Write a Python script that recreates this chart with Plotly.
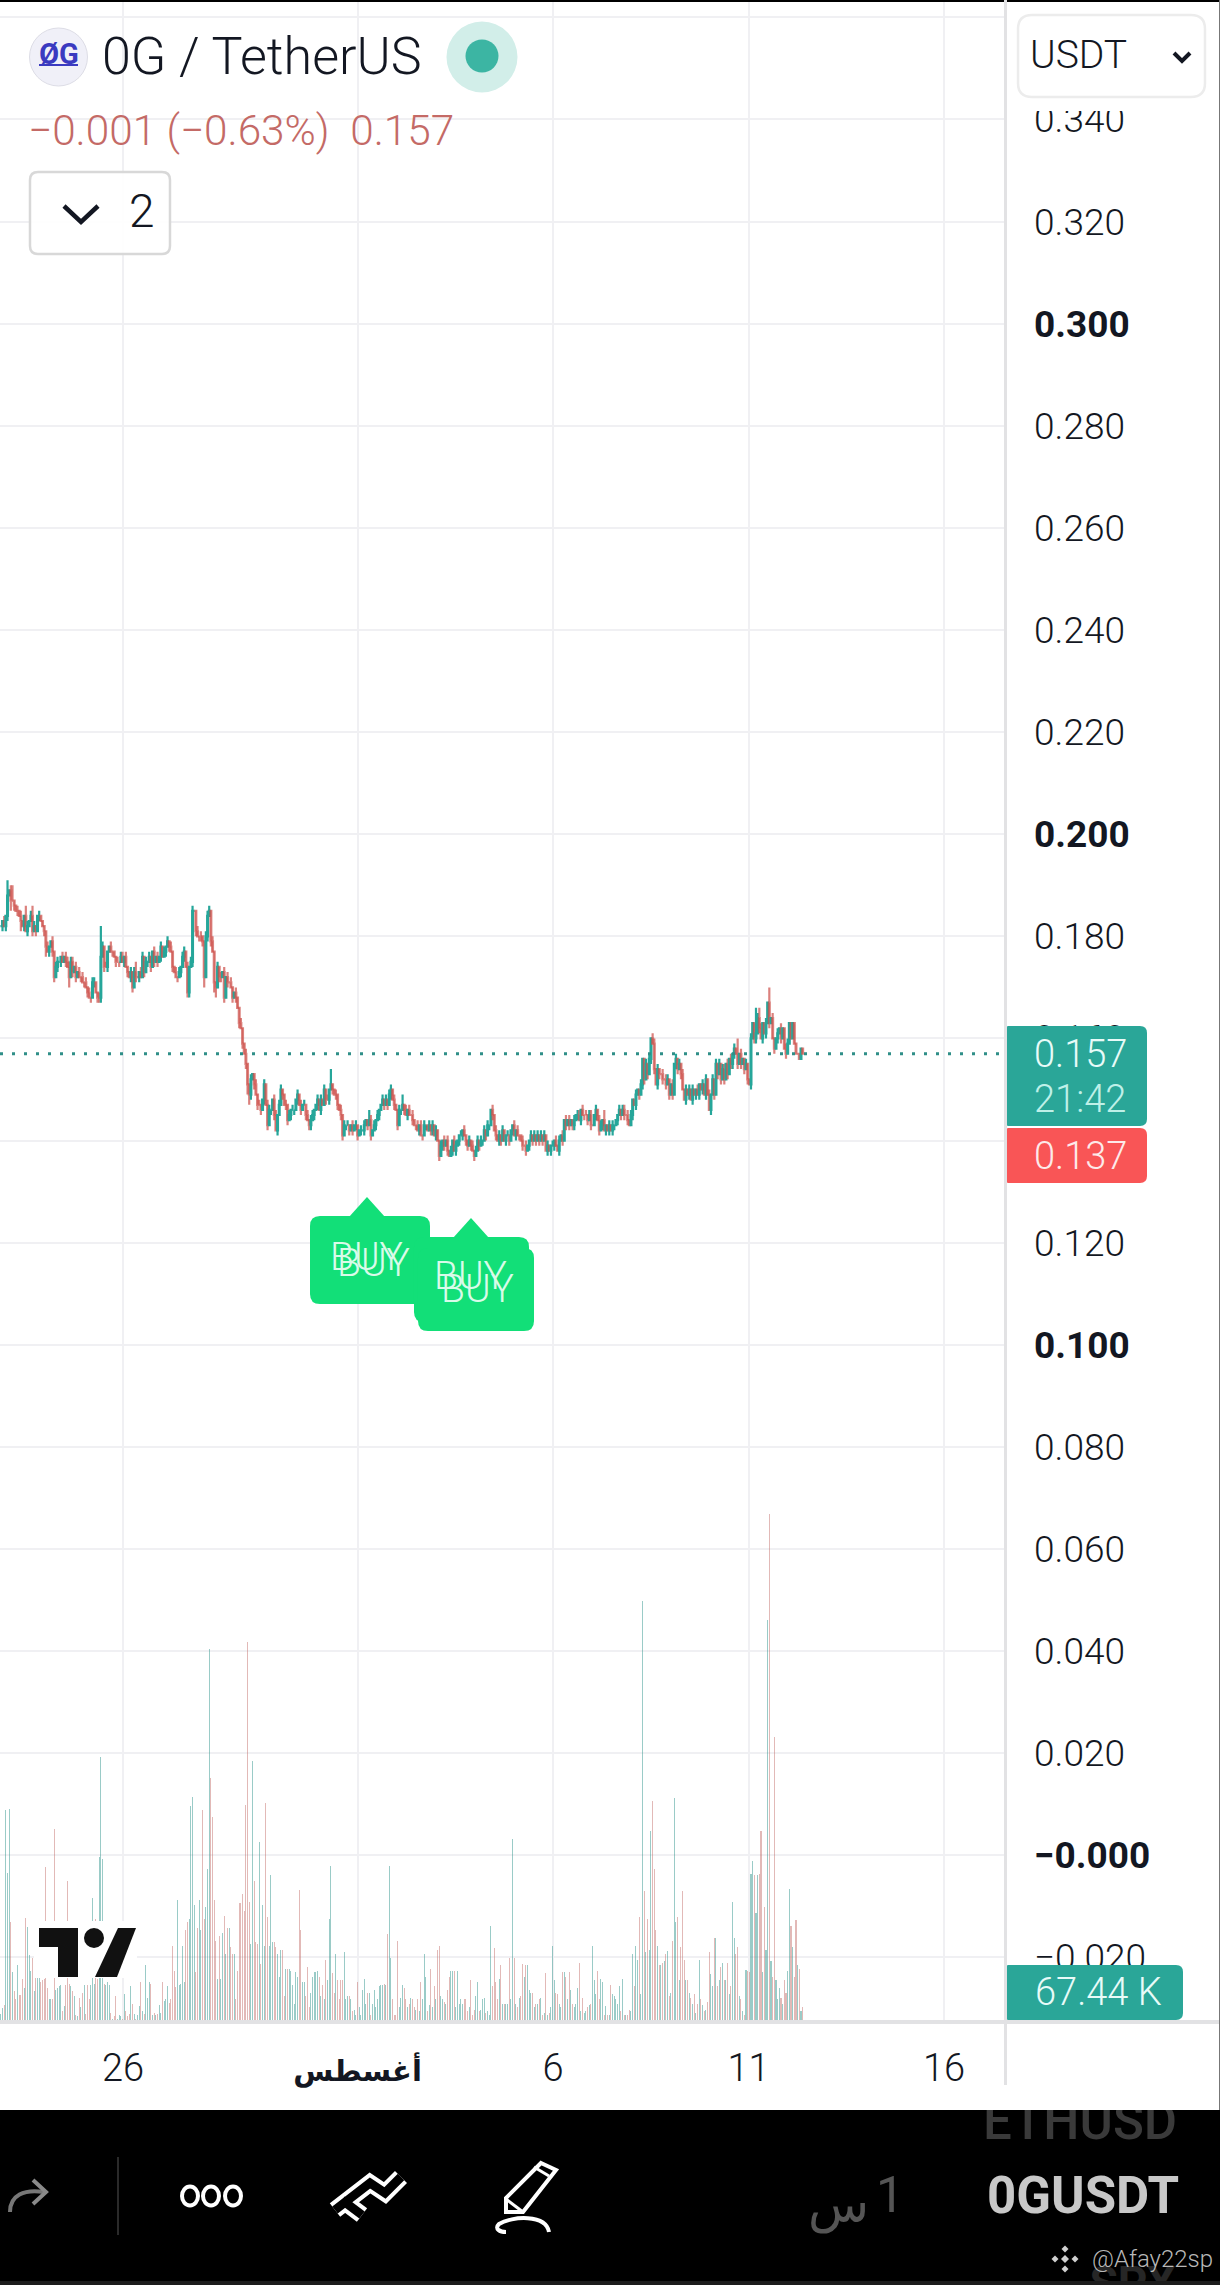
import pandas as pd
import plotly.graph_objects as go

# ---------- data (prices in thousandths of a USDT, volume in thousands) ----------
start_time = "2025-07-22 21:00"
step_seconds = 3684
first_open = 182
closes = [
182,183,182,184,188,189,187,187,186,185,
185,184,183,182,184,181,182,183,184,181,
182,181,184,184,183,182,181,178,177,178,
179,177,172,174,175,175,176,175,176,175,
174,172,175,173,174,172,173,172,172,171,
171,170,169,168,168,171,171,169,168,168,
176,178,174,174,177,178,177,177,176,175,
175,175,176,175,176,174,173,172,173,170,
173,172,172,173,172,176,173,175,175,176,
174,177,175,176,175,176,178,176,177,178,
179,178,177,174,173,172,172,173,174,176,
177,174,169,174,175,185,185,181,180,180,
180,179,172,180,184,185,179,177,171,170,
174,172,172,173,168,172,171,171,170,168,
169,168,166,163,162,159,157,155,151,149,
152,153,151,149,147,147,146,148,151,147,
143,146,146,148,145,142,145,147,150,149,
147,147,144,145,146,146,146,148,149,147,
146,147,147,145,144,143,144,145,146,147,
148,146,148,147,150,148,148,150,151,150,
149,149,147,146,145,141,143,143,143,142,
143,142,143,143,141,142,142,142,143,144,
143,144,141,142,143,144,145,146,147,148,
147,148,147,149,150,148,147,146,143,146,
146,147,146,145,146,145,145,144,143,143,
142,143,141,141,143,143,142,143,142,143,
141,142,140,137,139,140,139,140,138,137,
138,140,138,139,140,141,141,142,141,140,
139,140,139,138,137,138,140,139,140,140,
142,141,143,143,146,145,142,141,140,141,
140,142,140,141,141,140,142,143,141,142,
141,141,140,139,139,138,139,140,141,140,
141,140,141,140,141,140,141,138,139,138,
139,139,140,139,138,140,141,140,144,143,
144,143,144,143,144,145,145,144,146,145,
145,145,144,145,143,143,145,146,144,142,
143,144,142,143,142,143,142,143,143,144,
145,146,145,146,145,145,144,143,145,148,
147,149,150,149,151,156,152,155,153,156,
160,159,154,151,154,153,153,152,152,151,
152,149,151,149,155,156,154,155,153,150,
148,150,149,150,148,150,149,150,149,151,
150,151,149,152,149,146,149,152,149,155,
153,155,152,154,152,155,153,156,155,157,
158,157,155,157,155,156,154,155,152,151,
160,163,160,161,164,162,160,163,161,163,
167,163,164,160,158,160,161,162,160,162,
158,157,159,163,160,163,159,157,157,156,
158,157]
wick_up = [
0,0,1,0,3,0,1,3,0,0, 1,0,1,0,0,2,1,0,1,2, 1,0,0,1,0,0,0,0,1,0, 0,1,0,1,1,0,0,1,0,1,
1,1,1,1,0,1,0,1,0,1, 0,1,0,1,0,1,1,0,0,1, 6,1,0,1,0,0,1,0,0,0, 1,0,1,1,0,1,0,0,1,0,
1,2,0,0,1,1,0,1,0,1, 0,0,1,0,1,0,1,0,1,0, 1,0,1,0,0,1,0,1,0,1, 1,0,1,0,1,1,0,0,1,0,
1,0,0,1,1,1,0,1,0,0, 1,0,1,0,1,0,1,0,1,0, 0,1,0,0,1,0,0,1,0,0, 1,0,0,1,0,1,0,0,1,0,
1,1,0,0,1,1,0,1,1,0, 0,1,0,1,0,1,0,0,1,0, 1,0,1,0,1,0,1,1,0,0, 1,0,1,0,1,0,1,0,3,0,
0,1,0,0,1,0,1,0,1,0, 0,1,0,1,0,0,1,0,1,0, 0,2,1,0,1,0,1,0,0,1, 0,1,0,1,1,0,1,0,0,1,
0,2,0,1,0,1,0,1,0,0, 1,0,1,0,1,0,0,1,0,1, 0,1,0,0,1,0,1,0,1,0, 1,0,1,1,0,0,1,0,1,0,
0,1,0,1,0,1,1,0,1,0, 1,0,1,0,0,1,0,1,0,1, 0,1,0,0,1,0,0,0,1,0, 1,0,0,1,0,1,0,0,1,0,
1,0,1,0,1,0,1,0,1,0, 0,1,0,1,0,1,0,1,0,1, 0,1,0,0,1,0,1,1,0,1, 0,1,0,1,1,0,0,1,0,1,
1,0,2,0,0,1,0,1,0,0, 0,1,0,1,1,0,1,0,1,0, 0,1,0,0,1,0,0,1,0,1, 0,1,1,0,1,0,0,1,0,1,
1,0,0,1,0,1,0,1,0,1, 0,1,0,1,0,1,0,0,1,0, 0,1,0,1,0,1,0,1,0,0, 0,1,0,1,1,0,1,0,1,0,
1,0,3,0,1,0,0,1,0,0, 1,0,0,0,1,0,1,0,0,1, 0,1,0,1,0,0,1,0,1,0,
0,1,1]
wick_up = (wick_up + [0] * len(closes))[:len(closes)]
wick_up[453] = 5
wick_up[455] = 2
wick_up[461] = 3
wick_up[440] = 1
wick_up[429] = 1
wick_dn = [
0,1,0,1,1,0,2,0,1,0, 1,0,2,0,1,0,1,0,0,1, 0,1,0,1,0,0,1,2,0,1, 0,1,1,0,1,0,1,0,0,1,
0,2,0,1,0,1,0,0,1,0, 1,0,1,0,1,0,1,0,1,1, 1,0,1,0,1,0,0,1,0,1, 0,1,0,0,1,0,1,0,1,1,
0,1,0,1,0,0,1,0,1,0, 1,0,1,0,1,0,1,0,0,1, 0,1,0,1,0,0,1,0,1,0, 1,0,1,1,0,1,0,1,0,1,
1,1,2,0,1,0,1,0,2,2, 0,1,1,0,1,0,1,0,0,1, 0,1,0,1,0,1,0,1,2,2, 1,0,1,0,1,0,1,0,1,0,
1,0,1,0,1,0,1,0,0,1, 0,1,1,0,1,0,1,0,1,0, 1,0,0,1,0,1,1,0,1,0, 1,0,1,0,0,1,0,1,0,1,
0,1,1,0,1,1,0,1,0,1, 0,1,0,1,1,0,1,0,1,0, 1,0,1,0,0,1,0,1,0,0, 1,0,1,0,1,0,1,0,1,0,
1,0,1,0,1,0,0,1,0,1, 0,1,0,1,0,1,0,0,1,1, 0,1,0,1,0,1,1,0,1,0, 0,1,0,1,0,1,0,1,0,1,
1,0,1,0,1,0,0,1,0,1, 0,1,0,1,0,1,0,1,0,1, 1,0,0,1,0,1,0,1,0,1, 0,1,0,1,0,1,0,1,0,1,
0,1,0,1,0,1,0,0,1,0, 1,0,1,0,0,1,0,1,0,1, 0,1,0,1,1,0,1,0,1,0, 1,0,1,0,1,0,0,1,0,1,
0,1,0,1,0,1,0,1,1,0, 1,0,1,0,1,0,1,0,0,1, 0,1,0,1,0,1,1,0,1,0, 1,0,1,0,1,1,0,1,0,1,
0,1,0,1,0,1,1,0,1,0, 0,1,0,1,0,1,0,1,0,1, 0,1,0,1,0,0,1,0,1,0, 1,0,1,0,1,0,1,0,1,1,
1,0,1,0,1,0,1,0,1,0, 1,0,1,1,0,1,0,1,0,1, 0,1,0,0,1,0,1,0,1,0,
0,1,0]
wick_dn = (wick_dn + [0] * len(closes))[:len(closes)]
volumes_k = [
35,60,75,935,660,940,440,220,135,100,
250,120,120,190,150,460,420,295,225,285,
135,225,240,275,175,185,190,685,150,100,
100,100,855,140,150,160,165,50,70,165,
625,170,160,135,115,30,25,105,65,130,
165,35,165,100,165,550,170,455,190,730,
1170,720,170,165,175,165,40,15,25,115,
15,30,25,15,125,50,25,35,160,80,
35,15,30,70,175,50,35,250,105,175,
170,30,40,30,35,75,40,175,95,100,
160,85,100,335,225,155,540,165,170,335,
175,405,440,455,955,995,515,220,415,540,
405,935,455,510,675,1650,1080,905,540,360,
190,380,190,395,470,300,415,415,330,300,
300,100,225,525,525,565,490,960,1680,530,
345,1155,625,355,345,795,255,515,335,970,
465,335,650,355,355,330,300,200,320,320,
115,235,235,235,225,165,80,220,200,585,
405,175,175,115,245,65,130,200,220,220,
225,200,115,165,100,275,185,455,690,215,
130,300,185,100,185,185,310,100,115,115,
100,50,55,30,175,65,30,140,190,80,
130,130,30,80,140,65,100,160,165,165,
170,165,390,690,285,100,30,30,360,65,
105,165,150,100,65,80,105,100,65,55,
100,50,175,100,300,200,50,75,235,65,
160,100,320,335,115,100,90,80,140,200,
225,225,225,65,225,80,100,80,100,100,
50,65,185,30,55,115,175,50,55,100,
105,40,50,30,425,160,325,175,100,190,
250,80,80,80,80,285,100,810,285,80,
65,105,115,255,200,250,250,140,130,130,
65,80,80,100,105,30,40,215,30,40,
65,335,185,130,125,80,65,220,220,200,
100,220,140,80,65,80,150,260,50,105,
40,50,65,75,80,335,185,125,225,100,
190,175,30,70,30,30,165,125,115,100,
80,160,50,190,30,30,30,55,50,300,
160,335,275,465,125,1860,580,310,455,320,
845,975,675,405,335,250,250,260,270,300,
315,115,130,360,990,440,465,185,330,580,
275,185,185,130,105,80,125,40,80,275,
100,75,50,55,90,310,210,160,370,370,
160,185,245,260,185,185,260,125,160,530,
370,300,330,115,100,50,30,230,225,220,
655,710,650,480,650,655,845,220,510,320,
1775,2245,270,200,1260,185,100,150,105,80,
185,130,225,590,425,330,200,450,250,235,
50,67.44]
price_ticks = [0.36,0.34,0.32,0.30,0.28,0.26,0.24,0.22,0.20,0.18,0.16,0.14,0.12,0.10,0.08,0.06,0.04,0.02,0.0,-0.02]
price_tick_text = ["0.360","0.340","0.320","<b>0.300</b>","0.280","0.260","0.240","0.220","<b>0.200</b>","0.180","0.160","0.140","0.120","<b>0.100</b>","0.080","0.060","0.040","0.020","<b>−0.000</b>","−0.020"]
date_ticks = ["2025-07-26","2025-08-01","2025-08-06","2025-08-11","2025-08-16"]
date_tick_text = ["26","<span style=\"font-size:29px\"><b>أغسطس</b></span>","6","11","16"]
last_price = 0.157

# ---------- derived series ----------
n = len(closes)
times = pd.date_range(start_time, periods=n, freq=f"{step_seconds}s")
opens = [first_open] + closes[:-1]
highs = [max(o, c) + w for o, c, w in zip(opens, closes, wick_up)]
lows = [min(o, c) - w for o, c, w in zip(opens, closes, wick_dn)]
TEAL, RED = "#26a69a", "rgba(205,80,75,0.72)"
vol_colors = ["rgba(30,140,130,0.45)" if c >= o else "rgba(190,100,95,0.45)" for o, c in zip(opens, closes)]

# ---------- frame ----------
W, H, PW, PH = 1220, 2285, 1005, 2022
INK = "#131722"
FONT = "Roboto, 'DejaVu Sans', sans-serif"

def X(x): return x / PW
def Y(y): return (PH - y) / PH

def poly(points, close=True):
    d = "M " + " L ".join(f"{X(x):.5f} {Y(y):.5f}" for x, y in points)
    return d + (" Z" if close else "")

def rrect(x0, y0, x1, y1, rl=8, rr=8):
    return (f"M {X(x0+rl):.5f} {Y(y0):.5f} L {X(x1-rr):.5f} {Y(y0):.5f} "
            f"Q {X(x1):.5f} {Y(y0):.5f} {X(x1):.5f} {Y(y0+rr):.5f} L {X(x1):.5f} {Y(y1-rr):.5f} "
            f"Q {X(x1):.5f} {Y(y1):.5f} {X(x1-rr):.5f} {Y(y1):.5f} L {X(x0+rl):.5f} {Y(y1):.5f} "
            f"Q {X(x0):.5f} {Y(y1):.5f} {X(x0):.5f} {Y(y1-rl):.5f} L {X(x0):.5f} {Y(y0+rl):.5f} "
            f"Q {X(x0):.5f} {Y(y0):.5f} {X(x0+rl):.5f} {Y(y0):.5f} Z")

def path(d, fill="rgba(0,0,0,0)", line="rgba(0,0,0,0)", width=0, **kw):
    return dict(type="path", xref="paper", yref="paper", path=d, fillcolor=fill,
                line=dict(color=line, width=width), **kw)

def rect(x0, y0, x1, y1, fill, **kw):
    return dict(type="rect", xref="paper", yref="paper", x0=X(x0), x1=X(x1), y0=Y(y1), y1=Y(y0),
                fillcolor=fill, line=dict(width=0), **kw)

def circle(cx, cy, rx, ry, fill="rgba(0,0,0,0)", line="rgba(0,0,0,0)", width=0):
    return dict(type="circle", xref="paper", yref="paper", x0=X(cx-rx), x1=X(cx+rx), y0=Y(cy+ry), y1=Y(cy-ry),
                fillcolor=fill, line=dict(color=line, width=width))

def text(t, x, y, size, color=INK, anchor="left", weight=300):
    return dict(text=t, x=X(x), y=Y(y), xref="paper", yref="paper", showarrow=False, xanchor=anchor, yanchor="middle",
                borderpad=0, font=dict(family=FONT, size=size, color=color, weight=weight))

fig = go.Figure()
fig.add_trace(go.Bar(x=times, y=volumes_k, yaxis="y2", width=2250000, marker=dict(color=vol_colors, line=dict(width=0)),
                     showlegend=False, hoverinfo="skip"))
fig.add_trace(go.Candlestick(x=times, open=[v/1000 for v in opens], high=[v/1000 for v in highs],
                             low=[v/1000 for v in lows], close=[v/1000 for v in closes],
                             increasing=dict(line=dict(color=TEAL, width=2.2), fillcolor=TEAL),
                             decreasing=dict(line=dict(color=RED, width=2.2), fillcolor=RED),
                             whiskerwidth=0, showlegend=False, hoverinfo="skip"))

shapes = []
# latest price dotted line
shapes.append(dict(type="line", xref="paper", yref="y", x0=0, x1=1, y0=last_price, y1=last_price,
                   line=dict(color="#2f8f88", width=3, dash="3px,9px")))
# TradingView mark
shapes.append(rect(34, 1921, 137, 1978, "#ffffff"))
shapes.append(path(poly([(39,1928),(78,1928),(78,1977),(58,1977),(58,1947),(39,1947)]), fill="#111111"))
shapes.append(circle(94, 1938, 10, 10, fill="#111111"))
shapes.append(path(poly([(118,1928),(136,1928),(117,1977),(95,1977)]), fill="#111111"))
# BUY flags
GREEN = "#12df78"
shapes.append(path(poly([(349,1217),(367,1197),(385,1217)]), fill=GREEN))
shapes.append(path(rrect(310,1216,430,1304,10,10), fill=GREEN))
shapes.append(path(poly([(453,1238),(471,1218),(489,1238)]), fill=GREEN))
shapes.append(path(rrect(414,1237,529,1322,10,10), fill=GREEN))
shapes.append(path(rrect(418,1248,534,1331,10,10), fill=GREEN))
# axis frame
shapes.append(rect(0, 0, W, 2, "#000000"))
shapes.append(rect(1004, 0, 1007, 2110, "#e2e2e4"))
shapes.append(rect(0, 2020, W, 2024, "#e2e2e4"))
shapes.append(rect(1219, 0, W, 2110, "#777777"))
# mask above the first visible price label
shapes.append(rect(1008, 2, 1218, 111, "#ffffff"))
shapes.append(path(rrect(1018,15,1205,97,14,14), fill="#ffffff", line="#ececec", width=2.5))
shapes.append(path(poly([(1174,53),(1182,61),(1190,53)], close=False), line="#131722", width=4))
# price tags
shapes.append(path(rrect(1007,1026,1147,1126,1,7), fill="#2aa698"))
shapes.append(path(rrect(1007,1128,1147,1183,1,7), fill="#f95556"))
shapes.append(path(rrect(1007,1965,1183,2020,1,7), fill="#2aa698"))
# header
shapes.append(circle(58.5, 57, 29, 29, fill="#f0f0f8", line="#dddde6", width=1))
shapes.append(rect(39, 64, 78, 66, "#3a3ac0"))
shapes.append(circle(482, 57, 35.5, 35.5, fill="#d2eee9"))
shapes.append(circle(482, 56, 16.5, 16.5, fill="#3cb5a3"))
shapes.append(path(rrect(30,172,170,254,8,8), fill="rgba(255,255,255,0.9)", line="#d8d8d8", width=2.5))
shapes.append(path(poly([(64,206),(81,222),(98,206)], close=False), line="#131722", width=4.5))
# bottom toolbar
shapes.append(rect(0, 2110, W, H, "#000000"))
shapes.append(dict(type="rect", xref="paper", yref="paper", x0=X(960), x1=X(1200), y0=Y(2142), y1=Y(2092),
                   fillcolor="rgba(0,0,0,0)", line=dict(width=0),
                   label=dict(text="ETHUSD", font=dict(family=FONT, size=51, color="#3a3a3a", weight=500), textposition="middle center")))
shapes.append(rect(960, 2085, 1200, 2110, "#ffffff"))
shapes.append(dict(type="rect", xref="paper", yref="paper", x0=X(1060), x1=X(1205), y0=Y(2295), y1=Y(2265),
                   fillcolor="rgba(0,0,0,0)", line=dict(width=0),
                   label=dict(text="<b>SPX</b>", font=dict(family=FONT, size=46, color="#262626"), textposition="middle center")))
shapes.append(rect(0, 2281, W, H + 20, "#1c1c1c"))
shapes.append(rect(117, 2157, 119, 2235, "#2a2a2a"))
shapes.append(path(f"M {X(10):.5f} {Y(2212):.5f} C {X(10):.5f} {Y(2195):.5f} {X(24):.5f} {Y(2189):.5f} {X(44):.5f} {Y(2192):.5f}", line="#777777", width=4))
shapes.append(path(poly([(33,2180),(46,2192),(33,2204)], close=False), line="#8a8a8a", width=4))
for cx in (190, 211, 233):
    shapes.append(circle(cx, 2196, 8, 9.5, line="#ffffff", width=4))
for pts in ([(335,2210),(370,2183),(385,2193),(401,2177)], [(342,2200),(362,2215)]):
    shapes.append(path(poly(pts, close=False), line="#ffffff", width=17))
for pts in ([(335,2210),(370,2183),(385,2193),(401,2177)], [(342,2200),(362,2215)]):
    shapes.append(path(poly(pts, close=False), line="#000000", width=9))
shapes.append(path(poly([(541,2163),(556,2170),(523,2212),(506,2212),(506,2198)]), line="#ffffff", width=4))
shapes.append(path(poly([(534,2167),(549,2176)], close=False), line="#ffffff", width=3))
shapes.append(path(poly([(506,2199),(523,2212)], close=False), line="#ffffff", width=3))
shapes.append(path(f"M {X(549):.5f} {Y(2232):.5f} C {X(546):.5f} {Y(2214):.5f} {X(512):.5f} {Y(2216):.5f} {X(499):.5f} {Y(2224):.5f} C {X(494):.5f} {Y(2229):.5f} {X(500):.5f} {Y(2232):.5f} {X(506):.5f} {Y(2232):.5f}", line="#ffffff", width=4))
# watermark diamond
for cx, cy, r in ((1065,2259,4),(1065,2249,3.5),(1065,2269,3.5),(1055,2259,3.5),(1075,2259,3.5)):
    shapes.append(path(poly([(cx,cy-r),(cx+r,cy),(cx,cy+r),(cx-r,cy)]), fill="#d0d0d0"))

annotations = [
    text("<b>ØG</b>", 58.5, 54, 29, "#3a3ac0", "center"),
    text("0G / TetherUS", 101, 56, 52),
    text("−0.001 (−0.63%)  0.157", 27, 130, 42.3, "#c46a66"),
    text("2", 142, 211, 46, anchor="center"),
    text("USDT", 1029, 55, 39),
    text("0.157", 1033, 1054, 38, "#e8fbf8"),
    text("21:42", 1033, 1099, 38, "#bff0e8"),
    text("0.137", 1033, 1156, 38, "#fdeaea"),
    text("67.44 K", 1034, 1992, 38, "#e8fbf8"),
    text("BUY", 366, 1257, 39, "#d9fbe9", "center"),
    text("BUY", 373.5, 1263, 39, "#d9fbe9", "center"),
    text("BUY", 470.5, 1276, 39, "#d9fbe9", "center"),
    text("BUY", 477.5, 1289, 39, "#d9fbe9", "center"),
    text("1", 890, 2195, 50, "#555555", "center", 400),
    text("س", 838, 2205, 50, "#555555", "center", 400),
    text("<b>0GUSDT</b>", 1083, 2195, 51, "#c8c8c8", "center", 700),
    text("@Afay22sp", 1091, 2259, 24, "#b8b8b8"),
]

fig.update_layout(
    width=W, height=H, margin=dict(l=0, r=W-PW, t=0, b=H-PH), autosize=False,
    paper_bgcolor="#ffffff", plot_bgcolor="#ffffff", showlegend=False, bargap=0,
    font=dict(family=FONT, color=INK),
    xaxis=dict(type="date", range=["2025-07-22 20:29", "2025-08-17 13:26"], rangeslider=dict(visible=False),
               tickmode="array", tickvals=date_ticks, ticktext=date_tick_text, showgrid=True, gridcolor="#f0f0f3", gridwidth=2,
               zeroline=False, showline=False, ticks="", ticklabelstandoff=20, automargin=False,
               tickfont=dict(family=FONT, size=38, color=INK, weight=300)),
    yaxis=dict(range=[-0.03265, 0.3634], side="right", tickmode="array", tickvals=price_ticks, ticktext=price_tick_text,
               showgrid=True, gridcolor="#f0f0f3", gridwidth=2, zeroline=False, showline=False, ticks="", ticklabelstandoff=28,
               automargin=False, tickfont=dict(family=FONT, size=37, color=INK, weight=300)),
    yaxis2=dict(range=[0, 8937], overlaying="y", side="right", visible=False, showgrid=False, zeroline=False),
    shapes=shapes, annotations=annotations,
)
fig.write_html("out.html", config=dict(displayModeBar=False),
               post_script="document.body.style.margin='0';document.body.style.overflow='hidden';")
